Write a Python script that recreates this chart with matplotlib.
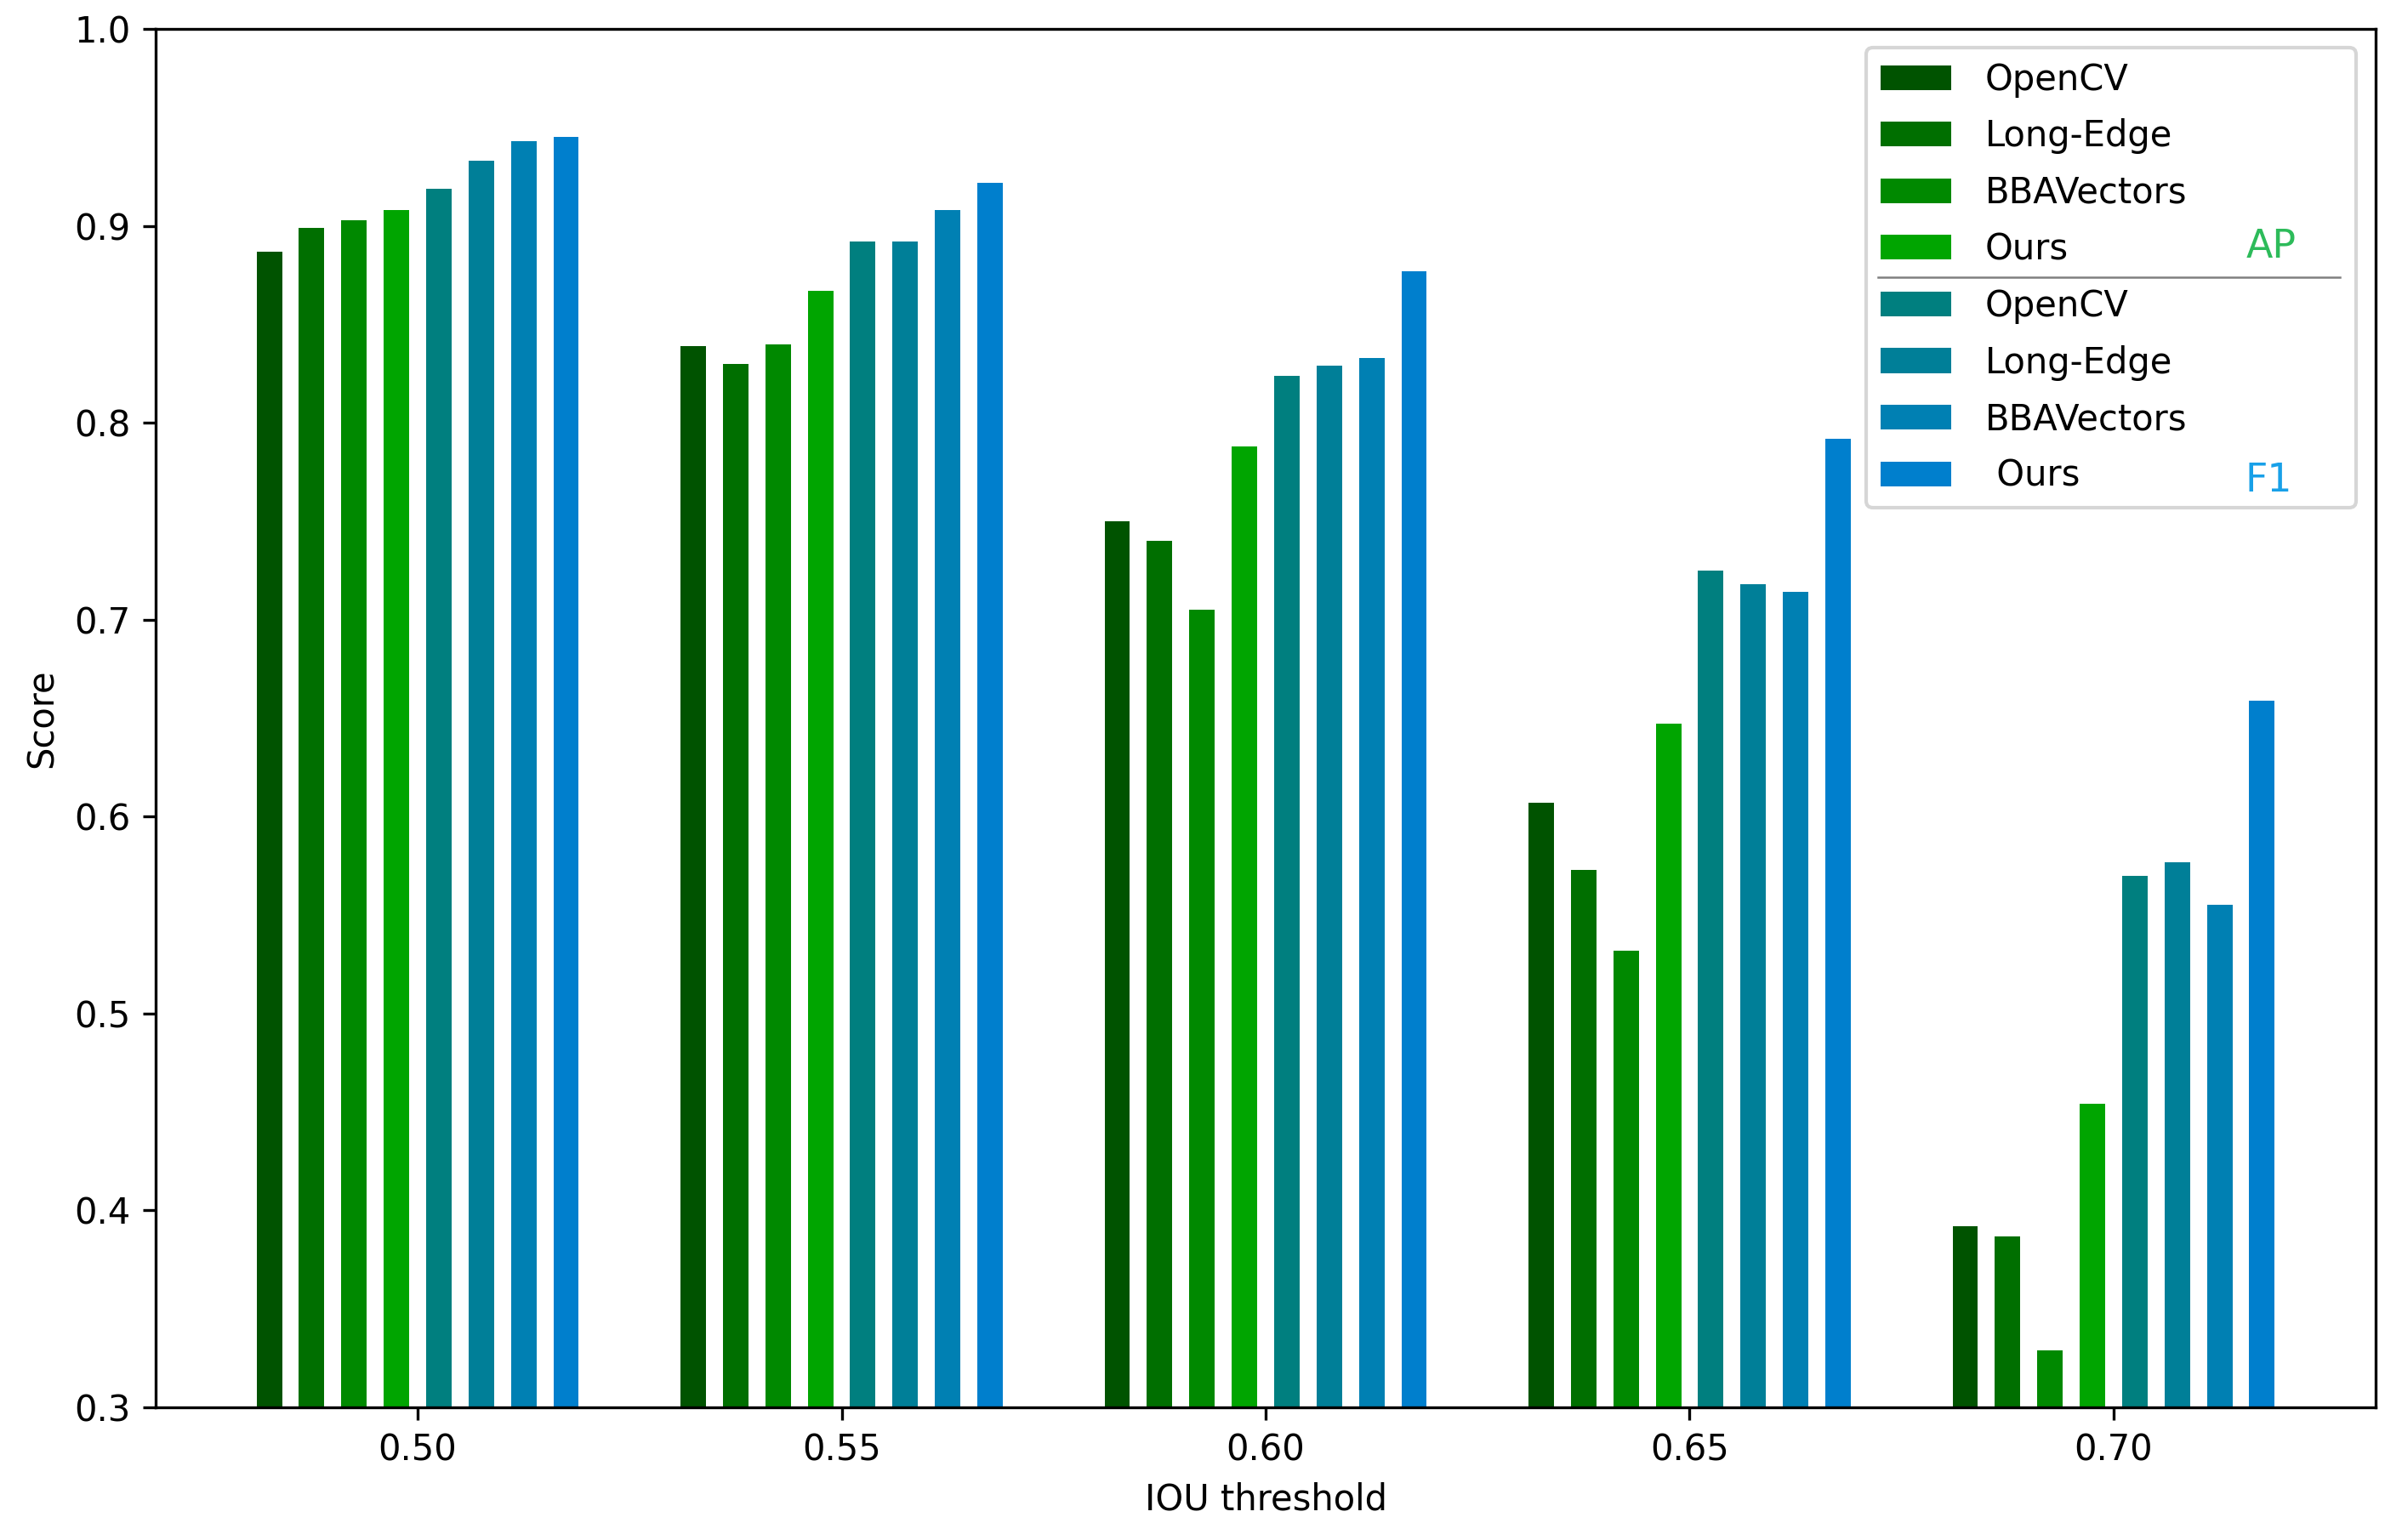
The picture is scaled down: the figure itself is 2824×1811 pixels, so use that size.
import numpy as np
import matplotlib
matplotlib.use('Agg')
import matplotlib.pyplot as plt
from matplotlib.lines import Line2D

# IOU 阈值
thresholds = [0.50, 0.55, 0.60, 0.65, 0.70]

# AP 分数
ap_opencv = [0.887, 0.839, 0.750, 0.607, 0.392]
ap_longedge = [0.899, 0.830, 0.740, 0.573, 0.387]
ap_bba = [0.903, 0.840, 0.705, 0.532, 0.329]
ap_ours = [0.908, 0.867, 0.788, 0.647, 0.454]

# F1 分数
f1_opencv = [0.919, 0.892, 0.824, 0.725, 0.570]
f1_longedge = [0.933, 0.892, 0.829, 0.718, 0.577]
f1_bba = [0.943, 0.908, 0.833, 0.714, 0.555]
f1_ours = [0.945, 0.922, 0.877, 0.792, 0.659]

series = [ap_opencv, ap_longedge, ap_bba, ap_ours,
          f1_opencv, f1_longedge, f1_bba, f1_ours]
labels = ['OpenCV', 'Long-Edge', 'BBAVectors', 'Ours',
          'OpenCV', 'Long-Edge', 'BBAVectors', ' Ours']
colors = ['#005300', '#006f00', '#008900', '#00a500',
          '#007f7f', '#007f98', '#0080b3', '#007fcd']

fig = plt.figure(figsize=(2824 / 300, 1811 / 300), dpi=300)
ax = fig.add_axes([183 / 2824, 1 - 1655 / 1811, 2610 / 2824, 1621 / 1811])

step = 0.005
width = 0.003
x = np.array(thresholds)
for i, (vals, lab, c) in enumerate(zip(series, labels, colors)):
    ax.bar(x + (i - 3.5) * step, vals, width=width, color=c, label=lab)

ax.set_ylim(0.3, 1.0)
ax.set_xticks(thresholds)
ax.set_xticklabels(['%.2f' % t for t in thresholds])
ax.set_xlabel('IOU threshold')
ax.set_ylabel('Score')

# 图例：固定宽度，右侧留出 AP / F1 标注的位置
leg = ax.legend(loc='upper right', fontsize=10, mode='expand',
                bbox_to_anchor=(0.7705, 0, 0.2207, 0.9864), borderaxespad=0,
                labelspacing=0.59, handletextpad=0.95)

# 图例中的分隔线与标注
ax.add_line(Line2D([0.776, 0.984], [0.820, 0.820], transform=ax.transAxes,
                   color='#808080', linewidth=0.6, zorder=10))
ax.text(0.953, 0.8415, 'AP', transform=ax.transAxes, color='#2dbb5a',
        fontsize=11, ha='center', va='center', zorder=10)
ax.text(0.952, 0.672, 'F1', transform=ax.transAxes, color='#18a0e8',
        fontsize=11, ha='center', va='center', zorder=10)

fig.savefig('out.png', dpi=300)
